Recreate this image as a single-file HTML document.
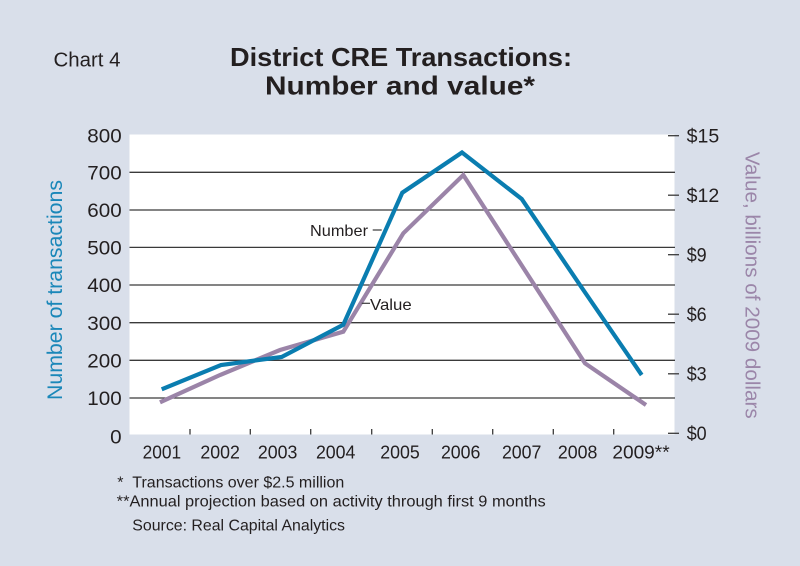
<!DOCTYPE html>
<html>
<head>
<meta charset="utf-8">
<style>
  html, body { margin: 0; padding: 0; background: #d9dfea; }
  svg { display: block; }
  text { font-family: "Liberation Sans", "DejaVu Sans", sans-serif; fill: #231f20; }
</style>
</head>
<body>
<svg width="800" height="566" viewBox="0 0 800 566" xmlns="http://www.w3.org/2000/svg">
  <rect x="0" y="0" width="800" height="566" fill="#d9dfea"/>

  <!-- Titles -->
  <text x="53.5" y="66.7" font-size="20" textLength="67" lengthAdjust="spacingAndGlyphs">Chart 4</text>
  <text x="230" y="66" font-size="26" font-weight="bold" textLength="342" lengthAdjust="spacingAndGlyphs">District CRE Transactions:</text>
  <text x="265" y="94.3" font-size="26" font-weight="bold" textLength="270" lengthAdjust="spacingAndGlyphs">Number and value*</text>

  <!-- Plot area -->
  <rect x="129.5" y="134.5" width="545" height="300" fill="#ffffff"/>

  <!-- Gridlines -->
  <g stroke="#3a3a3a" stroke-width="1.3">
    <line x1="129.5" y1="172.3" x2="675" y2="172.3"/>
    <line x1="129.5" y1="210" x2="675" y2="210"/>
    <line x1="129.5" y1="247.4" x2="675" y2="247.4"/>
    <line x1="129.5" y1="285" x2="675" y2="285"/>
    <line x1="129.5" y1="322.7" x2="675" y2="322.7"/>
    <line x1="129.5" y1="360.3" x2="675" y2="360.3"/>
    <line x1="129.5" y1="398" x2="675" y2="398"/>
  </g>

  <!-- X ticks -->
  <g stroke="#3a3a3a" stroke-width="1.3">
    <line x1="190" y1="429" x2="190" y2="434.5"/>
    <line x1="250.3" y1="429" x2="250.3" y2="434.5"/>
    <line x1="310.7" y1="429" x2="310.7" y2="434.5"/>
    <line x1="371.7" y1="429" x2="371.7" y2="434.5"/>
    <line x1="432.3" y1="429" x2="432.3" y2="434.5"/>
    <line x1="492.7" y1="429" x2="492.7" y2="434.5"/>
    <line x1="553.3" y1="429" x2="553.3" y2="434.5"/>
    <line x1="613.7" y1="429" x2="613.7" y2="434.5"/>
  </g>

  <!-- Right axis ticks -->
  <g stroke="#3a3a3a" stroke-width="1.3">
    <line x1="668" y1="135.7" x2="679" y2="135.7"/>
    <line x1="668" y1="195.2" x2="679" y2="195.2"/>
    <line x1="668" y1="254.7" x2="679" y2="254.7"/>
    <line x1="668" y1="314.2" x2="679" y2="314.2"/>
    <line x1="668" y1="373.8" x2="679" y2="373.8"/>
    <line x1="668" y1="433.3" x2="679" y2="433.3"/>
  </g>

  <!-- Series: Value (purple) -->
  <polyline fill="none" stroke="#9b84a8" stroke-width="4.2" stroke-linejoin="miter" stroke-linecap="butt"
    points="160,402.3 220,375 280,350 343.3,331.7 403.3,233.3 463.3,175 523,267.4 585,363.3 646,405"/>

  <!-- Series: Number (blue) -->
  <polyline fill="none" stroke="#0a7db0" stroke-width="4.2" stroke-linejoin="miter" stroke-linecap="butt"
    points="161.7,389.3 221,365 281.7,357 343.3,324.7 402.3,192.7 462,152.5 521.7,199 582,288 641.7,375"/>

  <!-- Series labels -->
  <text x="310" y="236" font-size="16" textLength="58" lengthAdjust="spacingAndGlyphs">Number</text>
  <line x1="372.7" y1="230" x2="381.7" y2="230" stroke="#3a3a3a" stroke-width="1.2"/>
  <line x1="361.7" y1="303.3" x2="370" y2="303.3" stroke="#3a3a3a" stroke-width="1.2"/>
  <text x="370" y="310" font-size="16" textLength="41.7" lengthAdjust="spacingAndGlyphs">Value</text>

  <!-- Left axis labels -->
  <g font-size="19" text-anchor="end">
    <text x="121.7" y="142.3" textLength="34.4" lengthAdjust="spacingAndGlyphs">800</text>
    <text x="121.7" y="179.5" textLength="34.4" lengthAdjust="spacingAndGlyphs">700</text>
    <text x="121.7" y="217.2" textLength="34.4" lengthAdjust="spacingAndGlyphs">600</text>
    <text x="121.7" y="254.6" textLength="34.4" lengthAdjust="spacingAndGlyphs">500</text>
    <text x="121.7" y="292.2" textLength="34.4" lengthAdjust="spacingAndGlyphs">400</text>
    <text x="121.7" y="329.9" textLength="34.4" lengthAdjust="spacingAndGlyphs">300</text>
    <text x="121.7" y="367.5" textLength="34.4" lengthAdjust="spacingAndGlyphs">200</text>
    <text x="121.7" y="405.2" textLength="34.4" lengthAdjust="spacingAndGlyphs">100</text>
    <text x="121.7" y="443.3" textLength="11.5" lengthAdjust="spacingAndGlyphs">0</text>
  </g>

  <!-- Right axis labels -->
  <g font-size="19">
    <text x="686.7" y="142.4" textLength="32.6" lengthAdjust="spacingAndGlyphs">$15</text>
    <text x="686.7" y="201.9" textLength="32.6" lengthAdjust="spacingAndGlyphs">$12</text>
    <text x="686.7" y="261.4" textLength="20" lengthAdjust="spacingAndGlyphs">$9</text>
    <text x="686.7" y="320.9" textLength="20" lengthAdjust="spacingAndGlyphs">$6</text>
    <text x="686.7" y="380.5" textLength="20" lengthAdjust="spacingAndGlyphs">$3</text>
    <text x="686.7" y="440" textLength="20" lengthAdjust="spacingAndGlyphs">$0</text>
  </g>

  <!-- X labels -->
  <g font-size="18" text-anchor="middle">
    <text x="161.9" y="458.3" textLength="38.5" lengthAdjust="spacingAndGlyphs">2001</text>
    <text x="220.1" y="458.3" textLength="39.5" lengthAdjust="spacingAndGlyphs">2002</text>
    <text x="277.6" y="458.3" textLength="39.5" lengthAdjust="spacingAndGlyphs">2003</text>
    <text x="335.7" y="458.3" textLength="39.5" lengthAdjust="spacingAndGlyphs">2004</text>
    <text x="400" y="458.3" textLength="39.5" lengthAdjust="spacingAndGlyphs">2005</text>
    <text x="460.7" y="458.3" textLength="39.5" lengthAdjust="spacingAndGlyphs">2006</text>
    <text x="521.7" y="458.3" textLength="39.5" lengthAdjust="spacingAndGlyphs">2007</text>
    <text x="577.6" y="458.3" textLength="39.5" lengthAdjust="spacingAndGlyphs">2008</text>
    <text x="641" y="458.3" textLength="57.3" lengthAdjust="spacingAndGlyphs">2009**</text>
  </g>

  <!-- Axis titles -->
  <text transform="translate(62,400) rotate(-90)" font-size="21" style="fill:#1a87b9" textLength="220" lengthAdjust="spacingAndGlyphs">Number of transactions</text>
  <text transform="translate(745.5,151.7) rotate(90)" font-size="20.5" style="fill:#9b86a9" textLength="267" lengthAdjust="spacingAndGlyphs">Value, billions of 2009 dollars</text>

  <!-- Footnotes -->
  <g font-size="16">
    <text x="117.3" y="487.3">*</text>
    <text x="132.3" y="487.3" textLength="212" lengthAdjust="spacingAndGlyphs">Transactions over $2.5 million</text>
    <text x="116.7" y="506.7" textLength="429" lengthAdjust="spacingAndGlyphs">**Annual projection based on activity through first 9 months</text>
    <text x="132.3" y="530.7" textLength="212.7" lengthAdjust="spacingAndGlyphs">Source: Real Capital Analytics</text>
  </g>
</svg>
</body>
</html>
